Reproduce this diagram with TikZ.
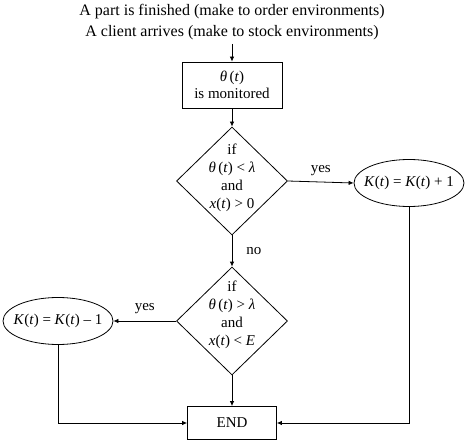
\documentclass[tikz,border=0pt]{standalone}
\usepackage{fontspec}
\setmainfont{Liberation Serif}
\usetikzlibrary{shapes.geometric,arrows.meta}
\begin{document}
\begin{tikzpicture}[x=1pt,y=-1pt,
  every node/.style={font=\fontsize{15}{18}\selectfont},
  conn/.style={line width=0.8pt},
  arr/.style={conn,-{Latex[length=5pt,width=4.5pt]}},
  boxn/.style={draw,line width=0.8pt,rectangle,inner sep=0pt},
  diam/.style={draw,line width=0.8pt,diamond,inner sep=0pt,minimum width=111pt,minimum height=108pt},
  ell/.style={draw,line width=0.8pt,ellipse,inner xsep=-12pt,inner ysep=4pt,minimum width=110pt,minimum height=47pt},
  dtext/.style={align=center,inner sep=0pt},
  toptext/.style={inner sep=0pt,font=\fontsize{16}{18}\selectfont}]
\useasboundingbox (0,0) rectangle (474,441);
\node[toptext] (t1) at (232,12) {A part is finished (make to order environments)};
\node[toptext] (t2) at (232,33) {A client arrives (make to stock environments)};
\coordinate (s) at (232,44);
\node[boxn,minimum width=100pt,minimum height=46pt,align=center,font=\fontsize{15}{17}\selectfont] (mon) at (232,85) {\textit{θ}\,(\textit{t})\\is monitored};
\node[diam] (d1) at (232,181) {};
\node[dtext] (d1t) at (232,178) {if\\\textit{θ}\,(\textit{t}) < \textit{λ}\\and\\\textit{x}(\textit{t}) > 0};
\node[ell] (e1) at (409,183) {\textit{K}(\textit{t}) = \textit{K}(\textit{t}) + 1};
\node[diam] (d2) at (232,321) {};
\node[dtext] (d2t) at (232,315) {if\\\textit{θ}\,(\textit{t}) > \textit{λ}\\and\\\textit{x}(\textit{t}) < \textit{E}};
\node[ell] (e2) at (58,321) {\textit{K}(\textit{t}) = \textit{K}(\textit{t}) -- 1};
\node[boxn,minimum width=89pt,minimum height=33pt] (end) at (232,423) {END};
\draw[arr] (s) -- (mon.north);
\draw[arr] (mon.south) -- (d1.north);
\draw[arr] (d1.east) -- node[above=6pt,inner sep=0pt] (y1) {yes} (e1.west);
\draw[arr] (d1.south) -- node[right=14pt,inner sep=0pt] (n1) {no} (d2.north);
\draw[arr] (d2.west) -- node[above=7pt,inner sep=0pt] (y2) {yes} (e2.east);
\draw[arr] (d2.south) -- (end.north);
\draw[arr] (e1.south) |- (end.east);
\draw[arr] (e2.south) |- (end.west);
\end{tikzpicture}
\end{document}
